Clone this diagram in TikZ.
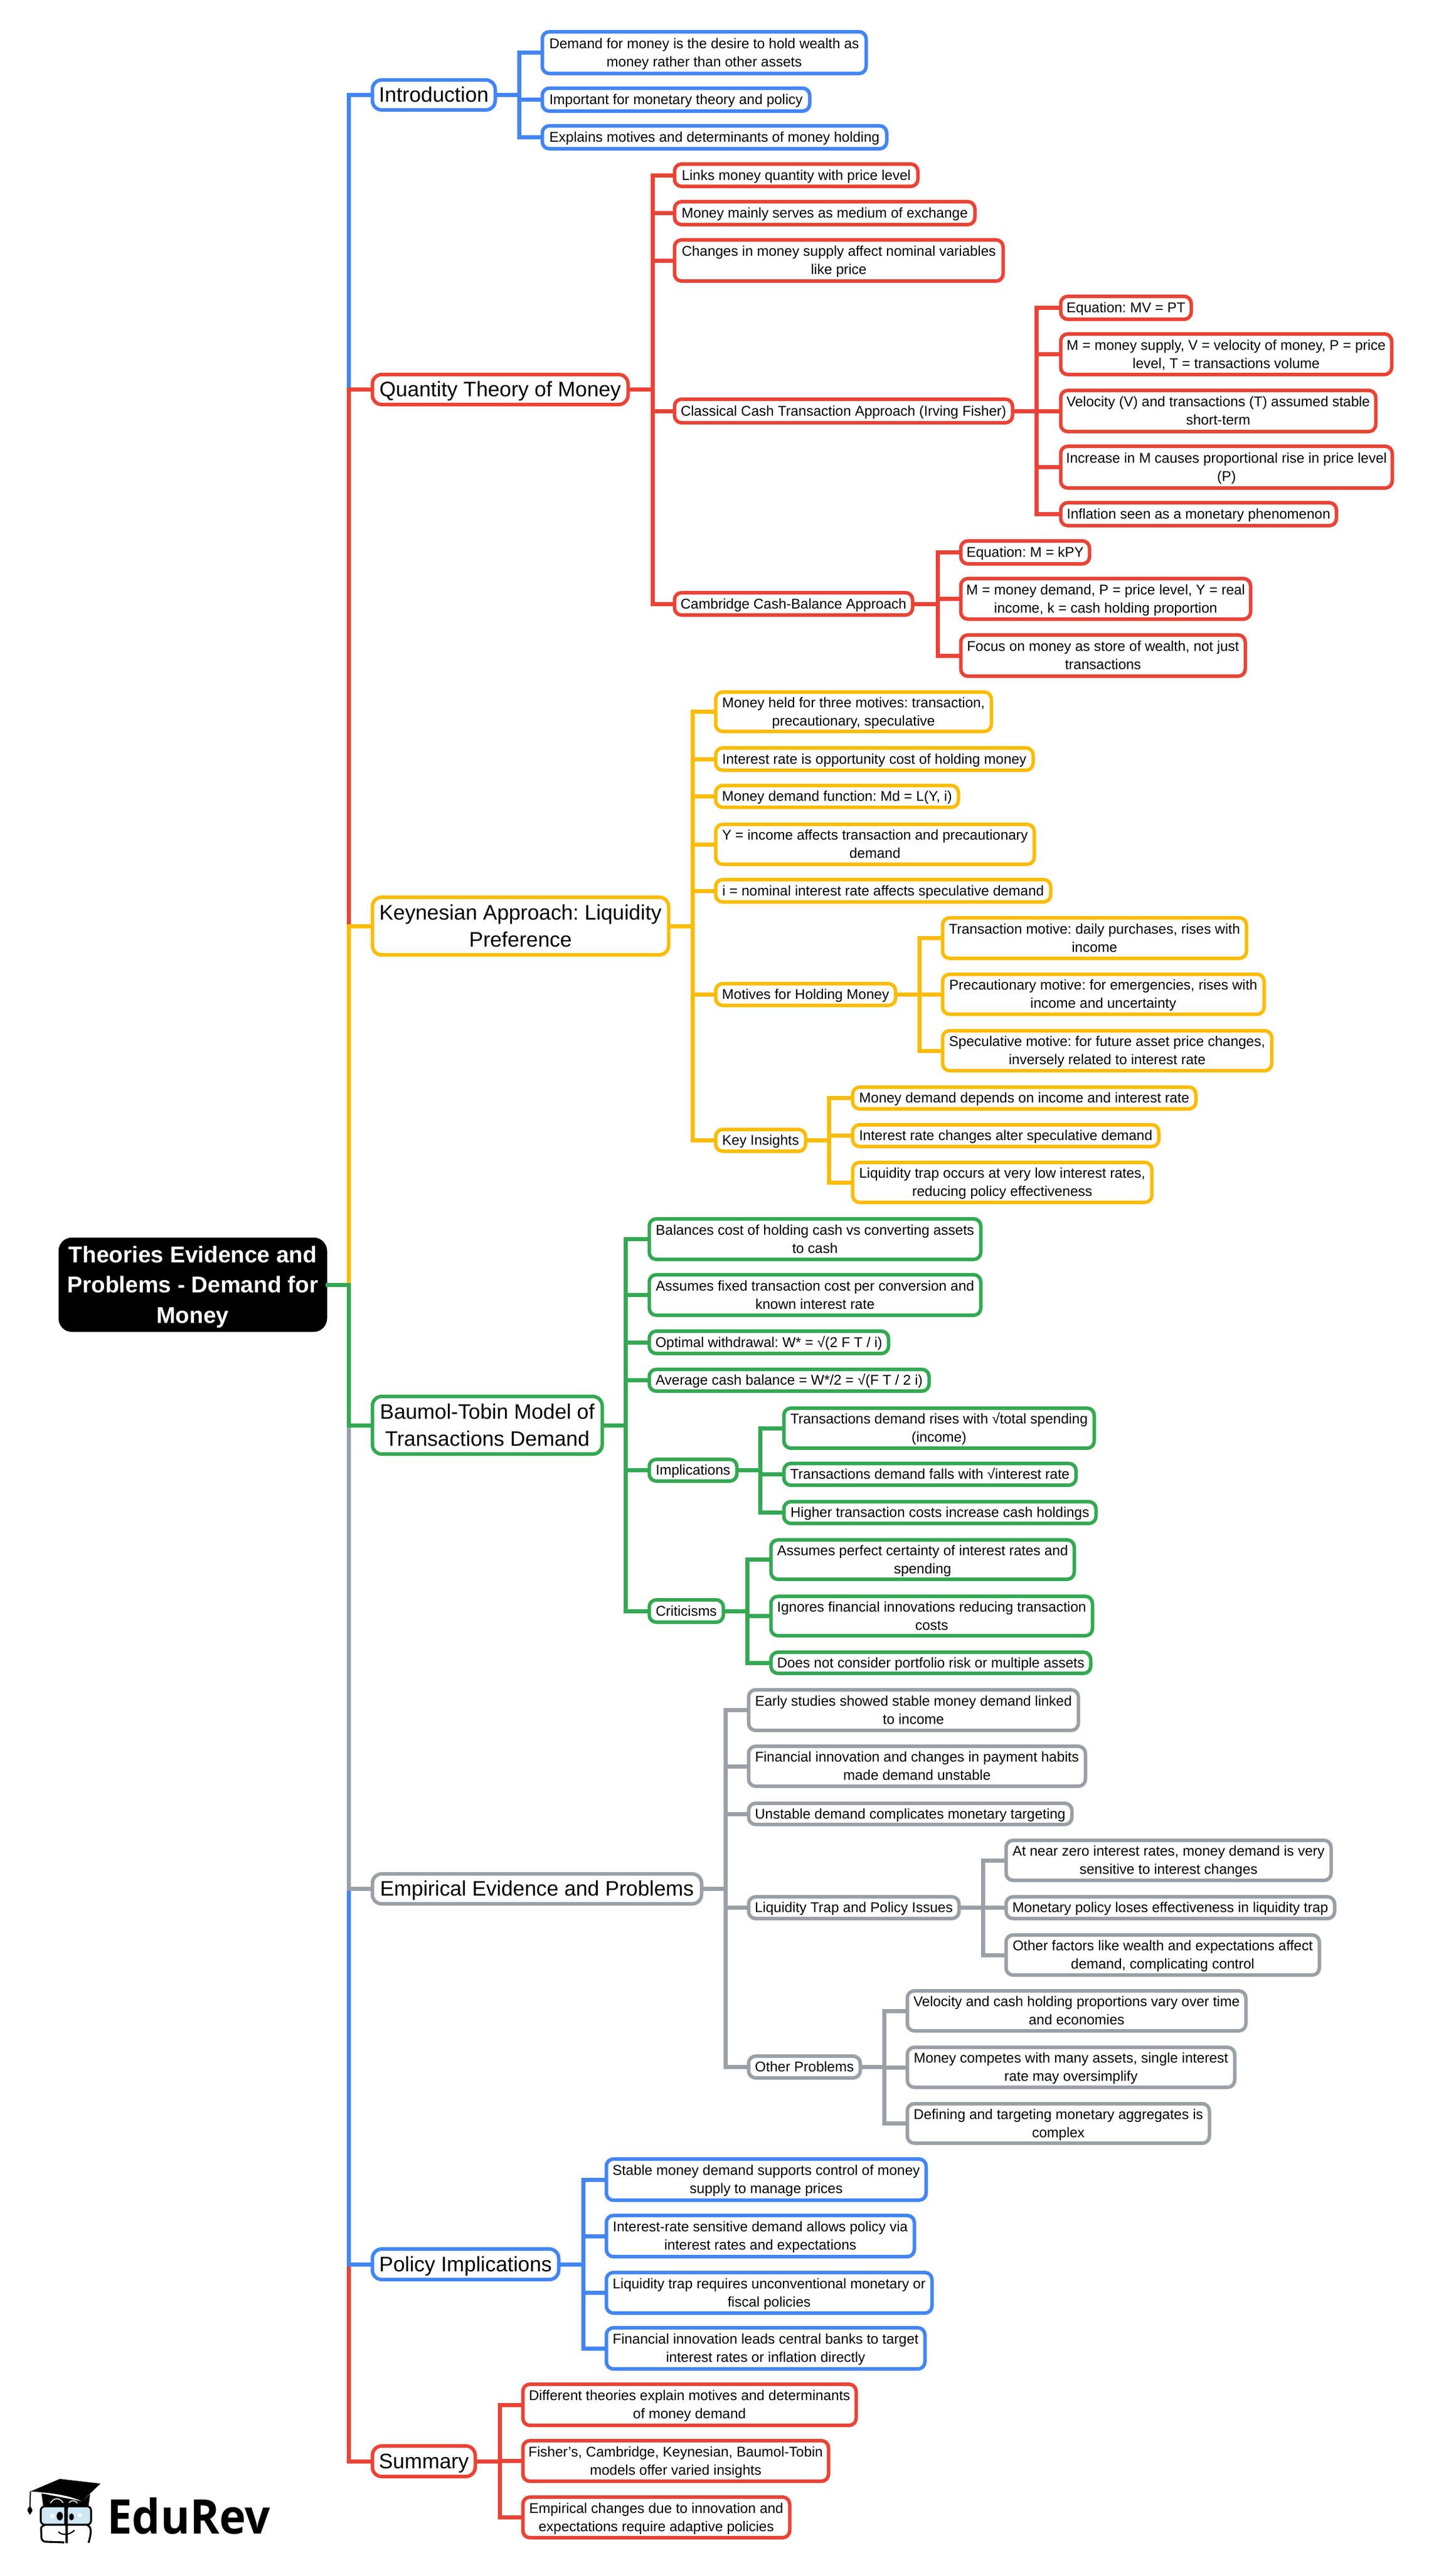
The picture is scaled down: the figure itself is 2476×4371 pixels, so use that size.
\documentclass[tikz,border=0pt]{standalone}
\usepackage{fontspec}
\setmainfont{Liberation Sans}
\newfontfamily\logofont{Open Sans}
\frenchspacing
\definecolor{cblue}{HTML}{4285F4}
\definecolor{cred}{HTML}{EA4335}
\definecolor{cyellow}{HTML}{FBBC04}
\definecolor{cgreen}{HTML}{34A853}
\definecolor{cgray}{HTML}{9AA0A6}
\definecolor{glass}{HTML}{CFE6F5}
\tikzset{
  basebox/.style={draw=#1,fill=white,line width=6pt,inner sep=0pt,outer sep=0pt,align=center,text=black},
  kidbox/.style={basebox=#1,rounded corners=12pt,font=\fontsize{24}{31}\selectfont},
  mainbox/.style={basebox=#1,rounded corners=16pt,font=\fontsize{35.7}{46.7}\selectfont},
  rootbox/.style={draw=black,fill=black,line width=6pt,inner sep=0pt,outer sep=0pt,align=center,text=white,rounded corners=20pt,font=\fontsize{38.8}{51.5}\selectfont\bfseries},
  link/.style={draw=#1,line width=7pt,line cap=butt,line join=miter}
}
\newcommand{\tstrut}{\rule[-.234\baselineskip]{0pt}{\baselineskip}}
\newcommand{\bx}[7]{\node[#2,minimum width={#4-#3-6},minimum height={#6-#5-6}] (#1) at ({(#3+#4)/2-0.5},{(#5+#6)/2}) {\tstrut #7\tstrut};}
\newcommand{\lk}[4]{\draw[link=#1] (#2.east) -- (#3 |- #2.east) |- (#4.west);}
\begin{document}
\begin{tikzpicture}[x=1pt,y=-1pt]
\useasboundingbox (0,0) rectangle (2476,4371);
% root
\bx{root}{rootbox}{100}{557}{2105}{2265}{Theories Evidence and\\Problems - Demand for\\Money}
% main topics
\bx{intro}{mainbox=cblue}{631}{846}{133}{190}{Introduction}
\bx{quant}{mainbox=cred}{631}{1072}{634}{691}{Quantity Theory of Money}
\bx{keyn}{mainbox=cyellow}{631}{1141}{1523}{1627}{Keynesian Approach: Liquidity\\Preference}
\bx{baum}{mainbox=cgreen}{631}{1028}{2372}{2476}{Baumol-Tobin Model of\\Transactions Demand}
\bx{emp}{mainbox=cgray}{631}{1197}{3184}{3241}{Empirical Evidence and Problems}
\bx{pol}{mainbox=cblue}{631}{954}{3822}{3880}{Policy Implications}
\bx{summ}{mainbox=cred}{631}{812}{4157}{4215}{Summary}
% introduction
\bx{i1}{kidbox=cblue}{920}{1477}{51}{128}{Demand for money is the desire to hold wealth as\\money rather than other assets}
\bx{i2}{kidbox=cblue}{920}{1381}{147}{192}{Important for monetary theory and policy}
\bx{i3}{kidbox=cblue}{920}{1512}{211}{256}{Explains motives and determinants of money holding}
% quantity
\bx{q1}{kidbox=cred}{1145}{1565}{276}{320}{Links money quantity with price level}
\bx{q2}{kidbox=cred}{1145}{1662}{340}{385}{Money mainly serves as medium of exchange}
\bx{q3}{kidbox=cred}{1145}{1710}{405}{481}{Changes in money supply affect nominal variables\\like price}
\bx{q4}{kidbox=cred}{1145}{1726}{676}{722}{Classical Cash Transaction Approach (Irving Fisher)}
\bx{q5}{kidbox=cred}{1145}{1556}{1005}{1049}{Cambridge Cash-Balance Approach}
\bx{f1}{kidbox=cred}{1802}{2030}{501}{546}{Equation: MV = PT}
\bx{f2}{kidbox=cred}{1802}{2371}{565}{640}{M = money supply, V = velocity of money, P = price\\level, T = transactions volume}
\bx{f3}{kidbox=cred}{1802}{2344}{661}{737}{Velocity (V) and transactions (T) assumed stable\\short-term}
\bx{f4}{kidbox=cred}{1802}{2372}{756}{833}{Increase in M causes proportional rise in price level\\(P)}
\bx{f5}{kidbox=cred}{1802}{2277}{852}{897}{Inflation seen as a monetary phenomenon}
\bx{c1}{kidbox=cred}{1632}{1857}{917}{962}{Equation: M = kPY}
\bx{c2}{kidbox=cred}{1632}{2131}{981}{1056}{M = money demand, P = price level, Y = real\\income, k = cash holding proportion}
\bx{c3}{kidbox=cred}{1632}{2122}{1077}{1153}{Focus on money as store of wealth, not just\\transactions}
% keynes
\bx{k1}{kidbox=cyellow}{1215}{1690}{1174}{1247}{Money held for three motives: transaction,\\precautionary, speculative}
\bx{k2}{kidbox=cyellow}{1215}{1761}{1269}{1313}{Interest rate is opportunity cost of holding money}
\bx{k3}{kidbox=cyellow}{1215}{1634}{1333}{1376}{Money demand function: Md = L(Y, i)}
\bx{k4}{kidbox=cyellow}{1215}{1763}{1399}{1473}{Y = income affects transaction and precautionary\\demand}
\bx{k5}{kidbox=cyellow}{1215}{1791}{1493}{1537}{i = nominal interest rate affects speculative demand}
\bx{k6}{kidbox=cyellow}{1215}{1527}{1670}{1713}{Motives for Holding Money}
\bx{k7}{kidbox=cyellow}{1215}{1374}{1918}{1961}{Key Insights}
\bx{m1}{kidbox=cyellow}{1601}{2124}{1558}{1633}{Transaction motive: daily purchases, rises with\\income}
\bx{m2}{kidbox=cyellow}{1601}{2154}{1654}{1728}{Precautionary motive: for emergencies, rises with\\income and uncertainty}
\bx{m3}{kidbox=cyellow}{1601}{2167}{1750}{1824}{Speculative motive: for future asset price changes,\\inversely related to interest rate}
\bx{n1}{kidbox=cyellow}{1448}{2038}{1846}{1889}{Money demand depends on income and interest rate}
\bx{n2}{kidbox=cyellow}{1448}{1975}{1910}{1953}{Interest rate changes alter speculative demand}
\bx{n3}{kidbox=cyellow}{1448}{1963}{1974}{2048}{Liquidity trap occurs at very low interest rates,\\reducing policy effectiveness}
% baumol
\bx{b1}{kidbox=cgreen}{1102}{1672}{2070}{2145}{Balances cost of holding cash vs converting assets\\to cash}
\bx{b2}{kidbox=cgreen}{1102}{1672}{2165}{2240}{Assumes fixed transaction cost per conversion and\\known interest rate}
\bx{b3}{kidbox=cgreen}{1102}{1515}{2261}{2305}{Optimal withdrawal: W* = √(2 F T / i)}
\bx{b4}{kidbox=cgreen}{1102}{1584}{2326}{2369}{Average cash balance = W*/2 = √(F T / 2 i)}
\bx{b5}{kidbox=cgreen}{1102}{1257}{2479}{2522}{Implications}
\bx{b6}{kidbox=cgreen}{1102}{1234}{2718}{2762}{Criticisms}
\bx{p1}{kidbox=cgreen}{1331}{1865}{2392}{2466}{Transactions demand rises with √total spending\\(income)}
\bx{p2}{kidbox=cgreen}{1331}{1834}{2486}{2529}{Transactions demand falls with √interest rate}
\bx{p3}{kidbox=cgreen}{1331}{1868}{2551}{2594}{Higher transaction costs increase cash holdings}
\bx{r1}{kidbox=cgreen}{1309}{1831}{2616}{2689}{Assumes perfect certainty of interest rates and\\spending}
\bx{r2}{kidbox=cgreen}{1309}{1862}{2712}{2785}{Ignores financial innovations reducing transaction\\costs}
\bx{r3}{kidbox=cgreen}{1309}{1859}{2807}{2849}{Does not consider portfolio risk or multiple assets}
% empirical
\bx{e1}{kidbox=cgray}{1271}{1838}{2871}{2946}{Early studies showed stable money demand linked\\to income}
\bx{e2}{kidbox=cgray}{1271}{1850}{2967}{3041}{Financial innovation and changes in payment habits\\made demand unstable}
\bx{e3}{kidbox=cgray}{1271}{1827}{3064}{3106}{Unstable demand complicates monetary targeting}
\bx{e4}{kidbox=cgray}{1271}{1635}{3223}{3266}{Liquidity Trap and Policy Issues}
\bx{e5}{kidbox=cgray}{1271}{1467}{3494}{3537}{Other Problems}
\bx{t1}{kidbox=cgray}{1709}{2268}{3127}{3201}{At near zero interest rates, money demand is very\\sensitive to interest changes}
\bx{t2}{kidbox=cgray}{1709}{2274}{3223}{3266}{Monetary policy loses effectiveness in liquidity trap}
\bx{t3}{kidbox=cgray}{1709}{2248}{3288}{3362}{Other factors like wealth and expectations affect\\demand, complicating control}
\bx{o1}{kidbox=cgray}{1541}{2123}{3383}{3457}{Velocity and cash holding proportions vary over time\\and economies}
\bx{o2}{kidbox=cgray}{1541}{2104}{3479}{3553}{Money competes with many assets, single interest\\rate may oversimplify}
\bx{o3}{kidbox=cgray}{1541}{2061}{3575}{3648}{Defining and targeting monetary aggregates is\\complex}
% policy
\bx{l1}{kidbox=cblue}{1029}{1579}{3669}{3745}{Stable money demand supports control of money\\supply to manage prices}
\bx{l2}{kidbox=cblue}{1029}{1559}{3765}{3841}{Interest-rate sensitive demand allows policy via\\interest rates and expectations}
\bx{l3}{kidbox=cblue}{1029}{1589}{3862}{3937}{Liquidity trap requires unconventional monetary or\\fiscal policies}
\bx{l4}{kidbox=cblue}{1029}{1577}{3956}{4032}{Financial innovation leads central banks to target\\interest rates or inflation directly}
% summary
\bx{s1}{kidbox=cred}{887}{1460}{4052}{4128}{Different theories explain motives and determinants\\of money demand}
\bx{s2}{kidbox=cred}{887}{1413}{4148}{4223}{Fisher's, Cambridge, Keynesian, Baumol-Tobin\\models offer varied insights}
\bx{s3}{kidbox=cred}{887}{1347}{4244}{4319}{Empirical changes due to innovation and\\expectations require adaptive policies}
% buses
\coordinate (tr) at (593,0);
\coordinate (bI) at (883,0);
\coordinate (bQ) at (1110,0);
\coordinate (bF) at (1763,0);
\coordinate (bC) at (1595,0);
\coordinate (bK) at (1178,0);
\coordinate (bM) at (1564,0);
\coordinate (bN) at (1410,0);
\coordinate (bB) at (1064,0);
\coordinate (bP) at (1293,0);
\coordinate (bR) at (1271,0);
\coordinate (bE) at (1234,0);
\coordinate (bT) at (1672,0);
\coordinate (bO) at (1504,0);
\coordinate (bL) at (992,0);
\coordinate (bS) at (850,0);
% connectors
\draw[link=cblue] (root.east) -- (tr |- root.east) |- (intro.west);
\draw[link=cred] (root.east) -- (tr |- root.east) |- (quant.west);
\draw[link=cyellow] (root.east) -- (tr |- root.east) |- (keyn.west);
\draw[link=cred] (root.east) -- (tr |- root.east) |- (summ.west);
\draw[link=cblue] (root.east) -- (tr |- root.east) |- (pol.west);
\draw[link=cgray] (root.east) -- (tr |- root.east) |- (emp.west);
\draw[link=cgreen] (root.east) -- (tr |- root.east) |- (baum.west);
\foreach \c in {i1,i2,i3} {\lk{cblue}{intro}{bI}{\c}}
\foreach \c in {q1,q2,q3,q4,q5} {\lk{cred}{quant}{bQ}{\c}}
\foreach \c in {f1,f2,f3,f4,f5} {\lk{cred}{q4}{bF}{\c}}
\foreach \c in {c1,c2,c3} {\lk{cred}{q5}{bC}{\c}}
\foreach \c in {k1,k2,k3,k4,k5,k6,k7} {\lk{cyellow}{keyn}{bK}{\c}}
\foreach \c in {m1,m2,m3} {\lk{cyellow}{k6}{bM}{\c}}
\foreach \c in {n1,n2,n3} {\lk{cyellow}{k7}{bN}{\c}}
\foreach \c in {b1,b2,b3,b4,b5,b6} {\lk{cgreen}{baum}{bB}{\c}}
\foreach \c in {p1,p2,p3} {\lk{cgreen}{b5}{bP}{\c}}
\foreach \c in {r1,r2,r3} {\lk{cgreen}{b6}{bR}{\c}}
\foreach \c in {e1,e2,e3,e4,e5} {\lk{cgray}{emp}{bE}{\c}}
\foreach \c in {t1,t2,t3} {\lk{cgray}{e4}{bT}{\c}}
\foreach \c in {o1,o2,o3} {\lk{cgray}{e5}{bO}{\c}}
\foreach \c in {l1,l2,l3,l4} {\lk{cblue}{pol}{bL}{\c}}
\foreach \c in {s1,s2,s3} {\lk{cred}{summ}{bS}{\c}}
% logo
\node[anchor=base west,inner sep=0pt,xscale=0.94,font=\logofont\fontsize{81}{90}\selectfont\bfseries,text=black] (logo) at (182,4309) {EduRev};
\begin{scope}[shift={(20,4200)},scale=0.3333]
  % head top
  \fill[black] (152,122) -- (160,184) -- (392,184) -- (400,125) -- (358,162) -- cycle;
  \draw[white,line width=1.6pt] (197,172) .. controls (215,142) and (245,142) .. (262,170);
  \draw[white,line width=1.6pt] (292,170) .. controls (305,155) and (322,155) .. (335,172);
  % glasses
  \draw[black,fill=glass,line width=3.2pt,rounded corners=7pt] (148,188) rectangle (405,282);
  % lower face
  \draw[black,line width=3.2pt,rounded corners=7pt] (168,284) .. controls (148,290) and (150,300) .. (150,320) -- (152,368) -- (268,372);
  \draw[black,line width=3.2pt] (385,284) .. controls (408,292) and (408,320) .. (392,374);
  % centre line
  \fill[black] (268,185) -- (268,282) -- (274,282) -- (274,376) -- (286,376) -- (286,200) -- (292,185) -- cycle;
  % eyes
  \fill[black] (245,238) ellipse [x radius=16,y radius=22];
  \fill[black] (305,242) ellipse [x radius=12,y radius=18];
  \fill[white] (197,228) rectangle (215,245);
  \fill[white] (340,226) rectangle (358,244);
  % smile
  \draw[black,line width=2.2pt] (238,318) .. controls (258,338) and (295,335) .. (320,310);
  % cap
  \fill[black] (95,112) -- (245,48) -- (453,72) -- (358,162) .. controls (290,130) and (190,118) .. (95,112) -- cycle;
  % tassel
  \draw[black,line width=2pt] (95,112) -- (93,190);
  \fill[black] (93,186) .. controls (84,195) and (78,205) .. (81,212) -- (92,232) -- (105,212) .. controls (107,205) and (100,195) .. (93,186) -- cycle;
\end{scope}
\end{tikzpicture}
\end{document}
